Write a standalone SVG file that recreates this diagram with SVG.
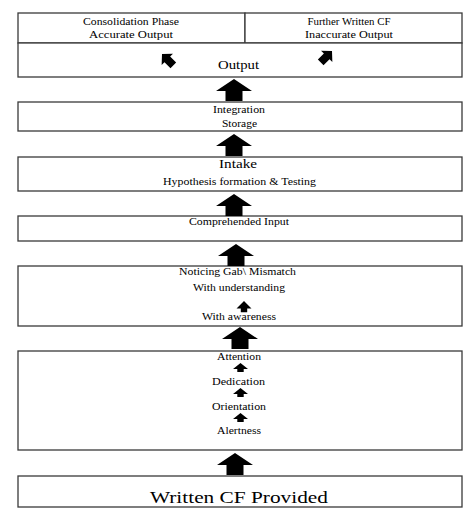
<svg xmlns="http://www.w3.org/2000/svg" xmlns:xlink="http://www.w3.org/1999/xlink" width="474" height="513" viewBox="0 0 474 513">
<style>
  .box { fill: #ffffff; stroke: #3a3a3a; stroke-width: 1.3; }
  .t { font-family: "Liberation Serif", "Times New Roman", serif; fill: #000; text-anchor: middle; }
  .s { font-size: 9.5px; }
  .m { font-size: 11.5px; }
  .l { font-size: 16.5px; }
  .arr { fill: #000; }
</style>
<defs>
  <path id="big" d="M0,0 L18,12 L8.5,12 L8.5,22 L-8.5,22 L-8.5,12 L-18,12 Z"/>
  <path id="small" d="M0,0 L7.5,6 L3.2,6 L3.2,9 L-3.2,9 L-3.2,6 L-7.5,6 Z"/>
  <path id="diag" d="M0,0 L8,7.5 L4,7.5 L4,16 L-4,16 L-4,7.5 L-8,7.5 Z"/>
</defs>
<rect width="474" height="513" fill="#ffffff"/>

<g id="node-consolidation">
  <rect class="box" x="18" y="13" width="227" height="30"/>
  <text class="t s" x="131" y="25" textLength="96" lengthAdjust="spacingAndGlyphs">Consolidation Phase</text>
  <text class="t s" x="131" y="38" textLength="84" lengthAdjust="spacingAndGlyphs">Accurate Output</text>
</g>
<g id="node-further">
  <rect class="box" x="245" y="13" width="217" height="30"/>
  <text class="t s" x="349" y="25" textLength="83" lengthAdjust="spacingAndGlyphs">Further Written CF</text>
  <text class="t s" x="349" y="38" textLength="88" lengthAdjust="spacingAndGlyphs">Inaccurate Output</text>
</g>
<g id="node-output">
  <rect class="box" x="18" y="43" width="444" height="34"/>
  <text class="t m" x="238.5" y="69" textLength="41" lengthAdjust="spacingAndGlyphs">Output</text>
</g>
<g id="node-integration">
  <rect class="box" x="18" y="102" width="444" height="29"/>
  <text class="t s" x="239" y="113" textLength="52" lengthAdjust="spacingAndGlyphs">Integration</text>
  <text class="t s" x="239.5" y="127" textLength="35" lengthAdjust="spacingAndGlyphs">Storage</text>
</g>
<g id="node-intake">
  <rect class="box" x="18" y="157" width="444" height="34"/>
  <text class="t m" x="238" y="168" textLength="38" lengthAdjust="spacingAndGlyphs">Intake</text>
  <text class="t s" x="239.5" y="185" textLength="153" lengthAdjust="spacingAndGlyphs">Hypothesis formation &amp; Testing</text>
</g>
<g id="node-comprehended">
  <rect class="box" x="18" y="216" width="444" height="25"/>
  <text class="t s" x="239" y="225" textLength="100" lengthAdjust="spacingAndGlyphs">Comprehended Input</text>
</g>
<g id="node-noticing">
  <rect class="box" x="18" y="266" width="444" height="60"/>
  <text class="t s" x="237.5" y="275" textLength="117" lengthAdjust="spacingAndGlyphs">Noticing Gab\ Mismatch</text>
  <text class="t s" x="239" y="291" textLength="92" lengthAdjust="spacingAndGlyphs">With understanding</text>
  <text class="t s" x="239" y="320" textLength="74" lengthAdjust="spacingAndGlyphs">With awareness</text>
</g>
<g id="node-attention">
  <rect class="box" x="18" y="351" width="444" height="99"/>
  <text class="t s" x="239" y="360" textLength="44" lengthAdjust="spacingAndGlyphs">Attention</text>
  <text class="t s" x="238.5" y="385" textLength="53" lengthAdjust="spacingAndGlyphs">Dedication</text>
  <text class="t s" x="239" y="410" textLength="54" lengthAdjust="spacingAndGlyphs">Orientation</text>
  <text class="t s" x="239" y="434" textLength="44" lengthAdjust="spacingAndGlyphs">Alertness</text>
</g>
<g id="node-written">
  <rect class="box" x="18" y="476" width="444" height="31"/>
  <text class="t l" x="239" y="503" textLength="178" lengthAdjust="spacingAndGlyphs">Written CF Provided</text>
</g>

<g id="connectors" class="arr">
  <use xlink:href="#big" href="#big" transform="translate(234,79)"/>
  <use xlink:href="#big" href="#big" transform="translate(234,134)"/>
  <use xlink:href="#big" href="#big" transform="translate(234,194)"/>
  <use xlink:href="#big" href="#big" transform="translate(236,244)"/>
  <use xlink:href="#big" href="#big" transform="translate(240,327)"/>
  <use xlink:href="#big" href="#big" transform="translate(235,453)"/>
  <use xlink:href="#small" href="#small" transform="translate(244,301) scale(1,1.25)"/>
  <use xlink:href="#small" href="#small" transform="translate(240.5,363)"/>
  <use xlink:href="#small" href="#small" transform="translate(240.5,388)"/>
  <use xlink:href="#small" href="#small" transform="translate(240.5,413)"/>
  <use xlink:href="#diag" href="#diag" transform="translate(162,54) rotate(-45)"/>
  <use xlink:href="#diag" href="#diag" transform="translate(332,51) rotate(45)"/>
</g>
</svg>
